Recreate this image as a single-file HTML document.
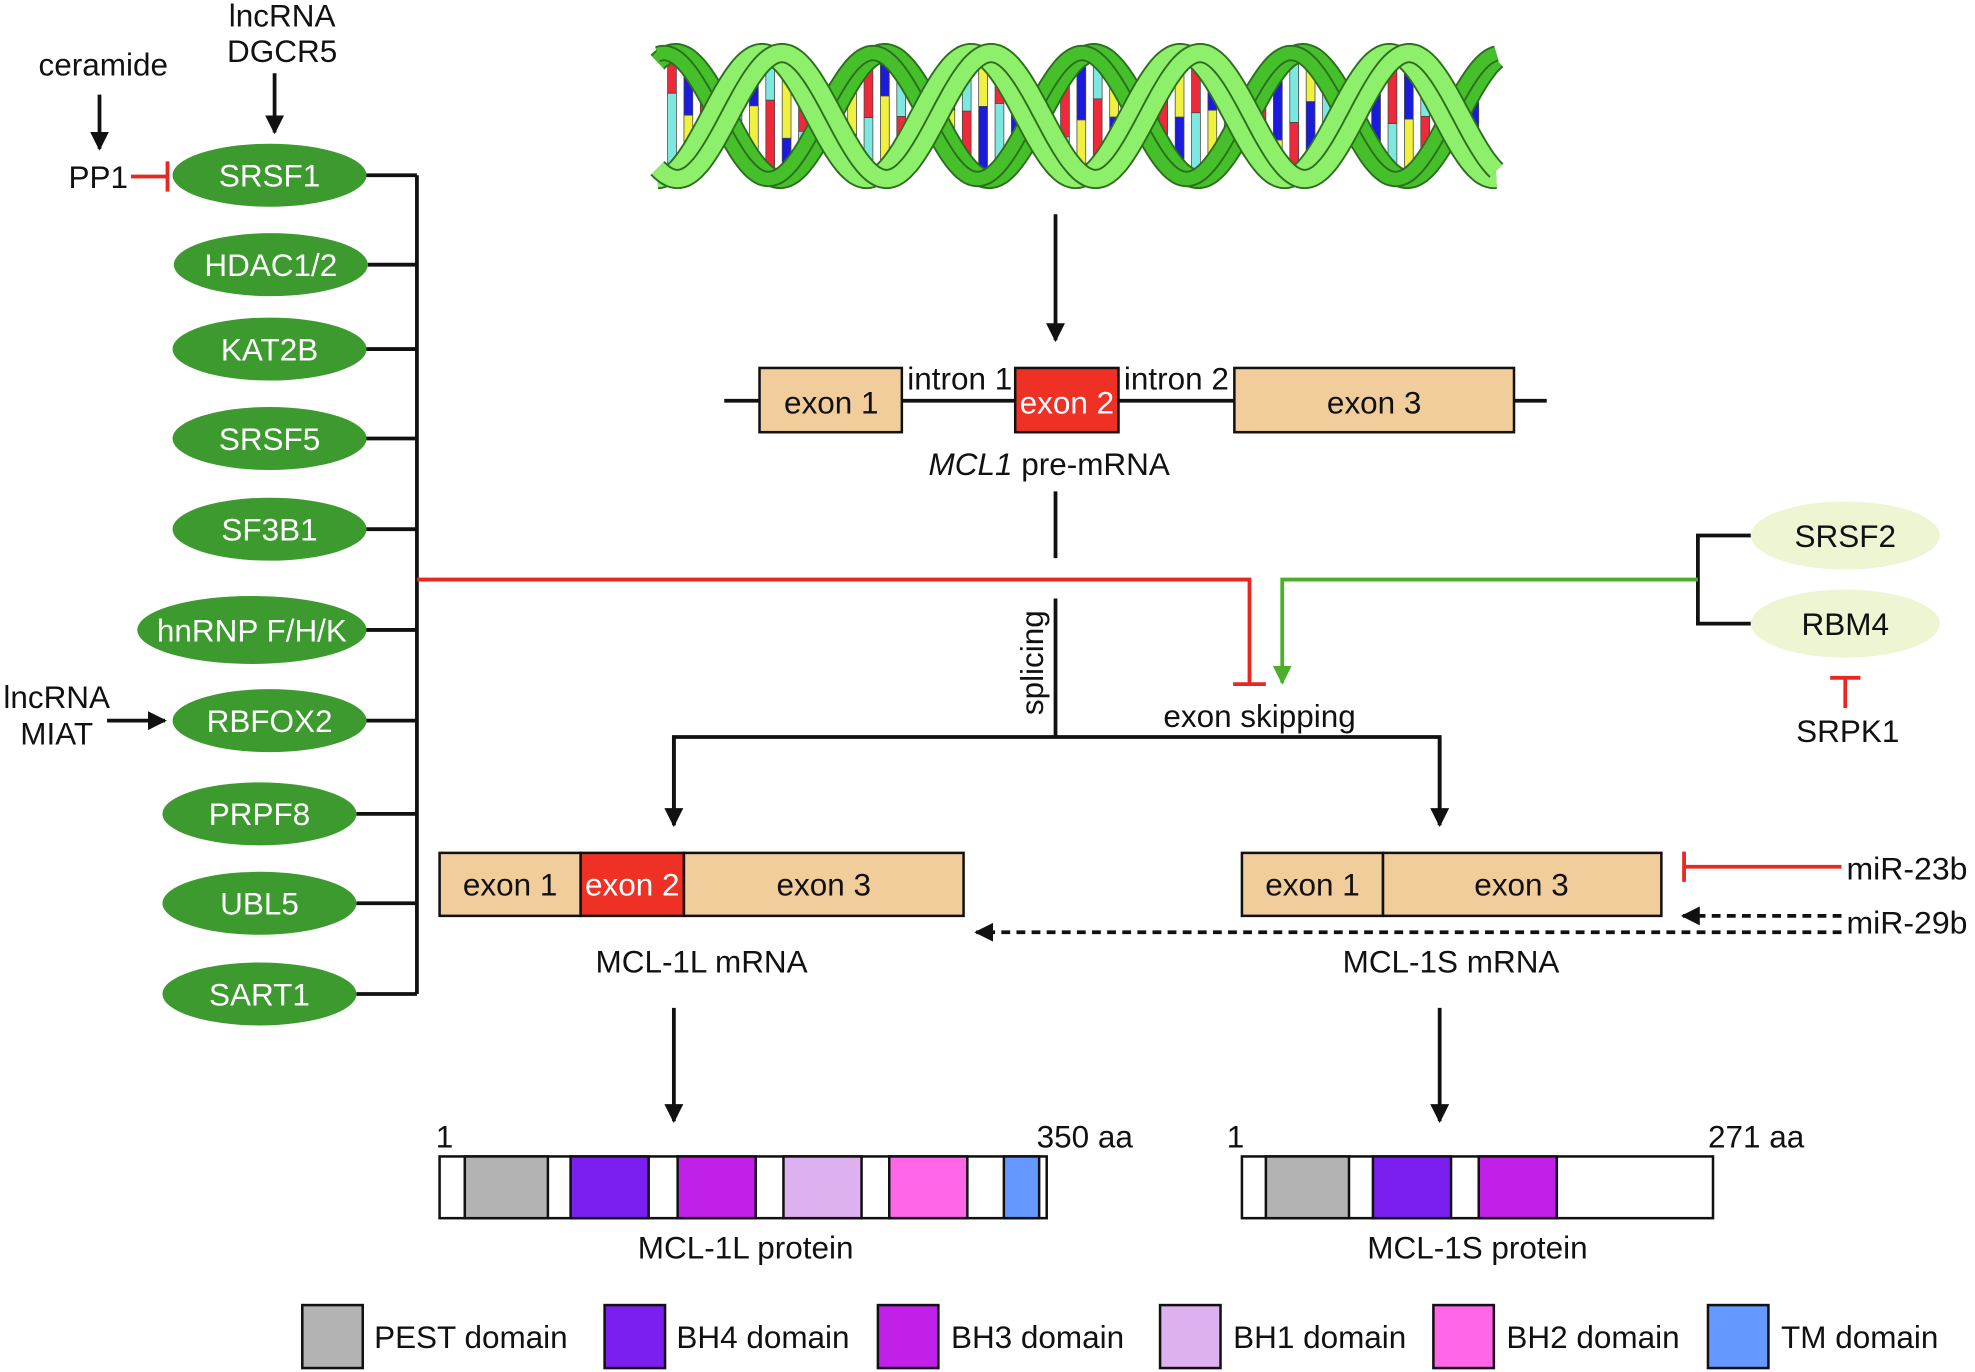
<!DOCTYPE html>
<html><head><meta charset="utf-8"><style>
html,body{margin:0;padding:0;background:#fff;}
svg{display:block;}
text{font-family:"Liberation Sans",Arial,sans-serif;font-size:25px;fill:#111;}
.w{fill:#fff;}
</style></head><body>
<svg id="s" width="1975" height="1372" viewBox="0 0 1568 1089" xmlns="http://www.w3.org/2000/svg">
<defs>
<marker id="ah" viewBox="0 0 10 10" refX="9" refY="5" markerWidth="5" markerHeight="5" orient="auto-start-reverse"><path d="M0,0 L10,5 L0,10 z" fill="#111"/></marker>
<marker id="ag" viewBox="0 0 10 10" refX="9" refY="5" markerWidth="5" markerHeight="5" orient="auto"><path d="M0,0 L10,5 L0,10 z" fill="#4caf2c"/></marker>
</defs>
<g id="dna"></g>
<g stroke="#111" stroke-width="3" fill="none">
<line x1="838" y1="170" x2="838" y2="270" marker-end="url(#ah)"/>
<line x1="575" y1="318" x2="1228" y2="318"/>
<line x1="838" y1="390" x2="838" y2="443"/>
<line x1="838" y1="475" x2="838" y2="585"/>
<polyline points="535,655 535,585 1143,585 1143,655"/>
<line x1="535" y1="585" x2="535" y2="655" marker-end="url(#ah)"/>
<line x1="1143" y1="585" x2="1143" y2="655" marker-end="url(#ah)"/>
<line x1="535" y1="800" x2="535" y2="890" marker-end="url(#ah)"/>
<line x1="1143" y1="800" x2="1143" y2="890" marker-end="url(#ah)"/>
<line x1="331" y1="139" x2="331" y2="789"/>
<line x1="290" y1="139" x2="331" y2="139"/><line x1="292" y1="210" x2="331" y2="210"/>
<line x1="290" y1="277" x2="331" y2="277"/><line x1="290" y1="348" x2="331" y2="348"/>
<line x1="290" y1="420" x2="331" y2="420"/><line x1="290" y1="500" x2="331" y2="500"/>
<line x1="290" y1="572" x2="331" y2="572"/><line x1="283" y1="646" x2="331" y2="646"/>
<line x1="283" y1="717" x2="331" y2="717"/><line x1="283" y1="789" x2="331" y2="789"/>
<line x1="79" y1="75" x2="79" y2="118" marker-end="url(#ah)"/>
<line x1="218" y1="58" x2="218" y2="105" marker-end="url(#ah)"/>
<line x1="85" y1="572" x2="131" y2="572" marker-end="url(#ah)"/>
<polyline points="1390,425 1348,425 1348,495 1390,495"/>
<line x1="1462" y1="727" x2="1336" y2="727" stroke-dasharray="7,5" marker-end="url(#ah)"/>
<line x1="1462" y1="740" x2="775" y2="740" stroke-dasharray="7,5" marker-end="url(#ah)"/>
</g>
<g stroke="#e8281e" stroke-width="3" fill="none">
<polyline points="331,460 992,460 992,543"/>
<line x1="979" y1="543" x2="1005" y2="543"/>
<line x1="104" y1="140" x2="133" y2="140"/><line x1="133" y1="128" x2="133" y2="152"/>
<line x1="1465" y1="562" x2="1465" y2="538"/><line x1="1453" y1="538" x2="1477" y2="538"/>
<line x1="1462" y1="688" x2="1337" y2="688"/><line x1="1337" y1="676" x2="1337" y2="700"/>
</g>
<polyline points="1348,460 1018,460 1018,542" stroke="#4caf2c" stroke-width="3" fill="none" marker-end="url(#ag)"/>
<g fill="#3c9a2e">
<ellipse cx="214" cy="139" rx="77" ry="25"/><ellipse cx="215" cy="210" rx="77" ry="25"/>
<ellipse cx="214" cy="277" rx="77" ry="25"/><ellipse cx="214" cy="348" rx="77" ry="25"/>
<ellipse cx="214" cy="420" rx="77" ry="25"/><ellipse cx="200" cy="500" rx="91" ry="27"/>
<ellipse cx="214" cy="572" rx="77" ry="25"/><ellipse cx="206" cy="646" rx="77" ry="25"/>
<ellipse cx="206" cy="717" rx="77" ry="25"/><ellipse cx="206" cy="789" rx="77" ry="25"/>
</g>
<g fill="#eef5d2"><ellipse cx="1465" cy="425" rx="75" ry="27"/><ellipse cx="1465" cy="495" rx="75" ry="27"/></g>
<g text-anchor="middle">
<text class="w" x="214" y="148">SRSF1</text><text class="w" x="215" y="219">HDAC1/2</text>
<text class="w" x="214" y="286">KAT2B</text><text class="w" x="214" y="357">SRSF5</text>
<text class="w" x="214" y="429">SF3B1</text><text class="w" x="200" y="509">hnRNP F/H/K</text>
<text class="w" x="214" y="581">RBFOX2</text><text class="w" x="206" y="655">PRPF8</text>
<text class="w" x="206" y="726">UBL5</text><text class="w" x="206" y="798">SART1</text>
<text x="1465" y="434">SRSF2</text><text x="1465" y="504">RBM4</text>
<text x="1467" y="589">SRPK1</text>
<text x="82" y="60">ceramide</text><text x="78" y="149">PP1</text>
<text x="224" y="21">lncRNA</text><text x="224" y="49">DGCR5</text>
<text x="45" y="562">lncRNA</text><text x="45" y="591">MIAT</text>
<text x="1000" y="577">exon skipping</text>
<text x="833" y="377"><tspan font-style="italic">MCL1</tspan> pre-mRNA</text>
<text x="557" y="772">MCL-1L mRNA</text><text x="1152" y="772">MCL-1S mRNA</text>
<text x="592" y="999">MCL-1L protein</text><text x="1173" y="999">MCL-1S protein</text>
</g>
<text x="0" y="0" transform="translate(828,526) rotate(-90)" text-anchor="middle">splicing</text>
<text x="1466" y="698" textLength="96" lengthAdjust="spacingAndGlyphs">miR-23b</text>
<text x="1466" y="741" textLength="96" lengthAdjust="spacingAndGlyphs">miR-29b</text>
<g stroke="#111" stroke-width="2">
<rect x="603" y="292" width="113" height="51" fill="#f1cd9c"/>
<rect x="806" y="292" width="82" height="51" fill="#ee3124"/>
<rect x="980" y="292" width="222" height="51" fill="#f1cd9c"/>
<rect x="349" y="677" width="112" height="50" fill="#f1cd9c"/>
<rect x="461" y="677" width="82" height="50" fill="#ee3124"/>
<rect x="543" y="677" width="222" height="50" fill="#f1cd9c"/>
<rect x="986" y="677" width="112" height="50" fill="#f1cd9c"/>
<rect x="1098" y="677" width="221" height="50" fill="#f1cd9c"/>
<rect x="349" y="918" width="482" height="49" fill="#fff"/>
<rect x="369" y="918" width="66" height="49" fill="#b3b3b3"/>
<rect x="453" y="918" width="62" height="49" fill="#7a1ff0"/>
<rect x="538" y="918" width="62" height="49" fill="#c020e8"/>
<rect x="622" y="918" width="62" height="49" fill="#ddb0f0"/>
<rect x="706" y="918" width="62" height="49" fill="#ff66e8"/>
<rect x="797" y="918" width="28" height="49" fill="#6699ff"/>
<rect x="986" y="918" width="374" height="49" fill="#fff"/>
<rect x="1005" y="918" width="66" height="49" fill="#b3b3b3"/>
<rect x="1090" y="918" width="62" height="49" fill="#7a1ff0"/>
<rect x="1174" y="918" width="62" height="49" fill="#c020e8"/>
<rect x="240" y="1036" width="48" height="50" fill="#b3b3b3"/>
<rect x="480" y="1036" width="48" height="50" fill="#7a1ff0"/>
<rect x="697" y="1036" width="48" height="50" fill="#c020e8"/>
<rect x="921" y="1036" width="48" height="50" fill="#ddb0f0"/>
<rect x="1138" y="1036" width="48" height="50" fill="#ff66e8"/>
<rect x="1356" y="1036" width="48" height="50" fill="#6699ff"/>
</g>
<g text-anchor="middle">
<text x="660" y="328">exon 1</text><text class="w" x="847" y="328">exon 2</text><text x="1091" y="328">exon 3</text>
<text x="762" y="309">intron 1</text><text x="934" y="309">intron 2</text>
<text x="405" y="711">exon 1</text><text class="w" x="502" y="711">exon 2</text><text x="654" y="711">exon 3</text>
<text x="1042" y="711">exon 1</text><text x="1208" y="711">exon 3</text>
</g>
<text x="346" y="911">1</text><text x="823" y="911">350 aa</text>
<text x="974" y="911">1</text><text x="1356" y="911">271 aa</text>
<text x="297" y="1070">PEST domain</text><text x="537" y="1070">BH4 domain</text>
<text x="755" y="1070">BH3 domain</text><text x="979" y="1070">BH1 domain</text>
<text x="1196" y="1070">BH2 domain</text><text x="1414" y="1070">TM domain</text>
</svg>
<script>
(function(){
var g=document.getElementById('dna'),out='';
var x0=522,x1=1188,mid=92,A=50,P=166,cols=['#ee2a3a','#1b1bdd','#7de8e0','#f0f040'];
function y(x,ph){return mid+A*Math.sin(2*Math.PI*(x-x0)/P+ph);}
var i=0;
for(var x=x0+8;x<x1-8;x+=13,i++){
 var ya=y(x,Math.PI/2),yb=y(x,Math.PI/2+2.6);
 var t=Math.min(ya,yb)+4,b=Math.max(ya,yb)-4;if(b-t<10)continue;
 var m=t+(b-t)*(0.3+0.4*((i*37)%10)/10);
 out+='<rect x="'+x+'" y="'+t+'" width="7" height="'+(m-t)+'" fill="'+cols[i%4]+'" stroke="#444" stroke-width="0.6"/>';
 out+='<rect x="'+x+'" y="'+m+'" width="7" height="'+(b-m)+'" fill="'+cols[(i+2)%4]+'" stroke="#444" stroke-width="0.6"/>';
}
function strand(ph,fill,w){
 var d='';for(var x=x0;x<=x1;x+=2){d+=(x==x0?'M':'L')+x+','+y(x,ph).toFixed(1);}
 out+='<path d="'+d+'" fill="none" stroke="#2d6e1e" stroke-width="'+(w+3)+'"/>';
 out+='<path d="'+d+'" fill="none" stroke="'+fill+'" stroke-width="'+w+'"/>';
}
strand(Math.PI/2+2.6,'#45c02a',13);
strand(Math.PI/2+2.95,'#45c02a',10);
strand(Math.PI/2,'#8ef06a',13);
strand(Math.PI/2-0.6,'#8ef06a',13);
g.innerHTML=out;
})();
</script>
</body></html>
